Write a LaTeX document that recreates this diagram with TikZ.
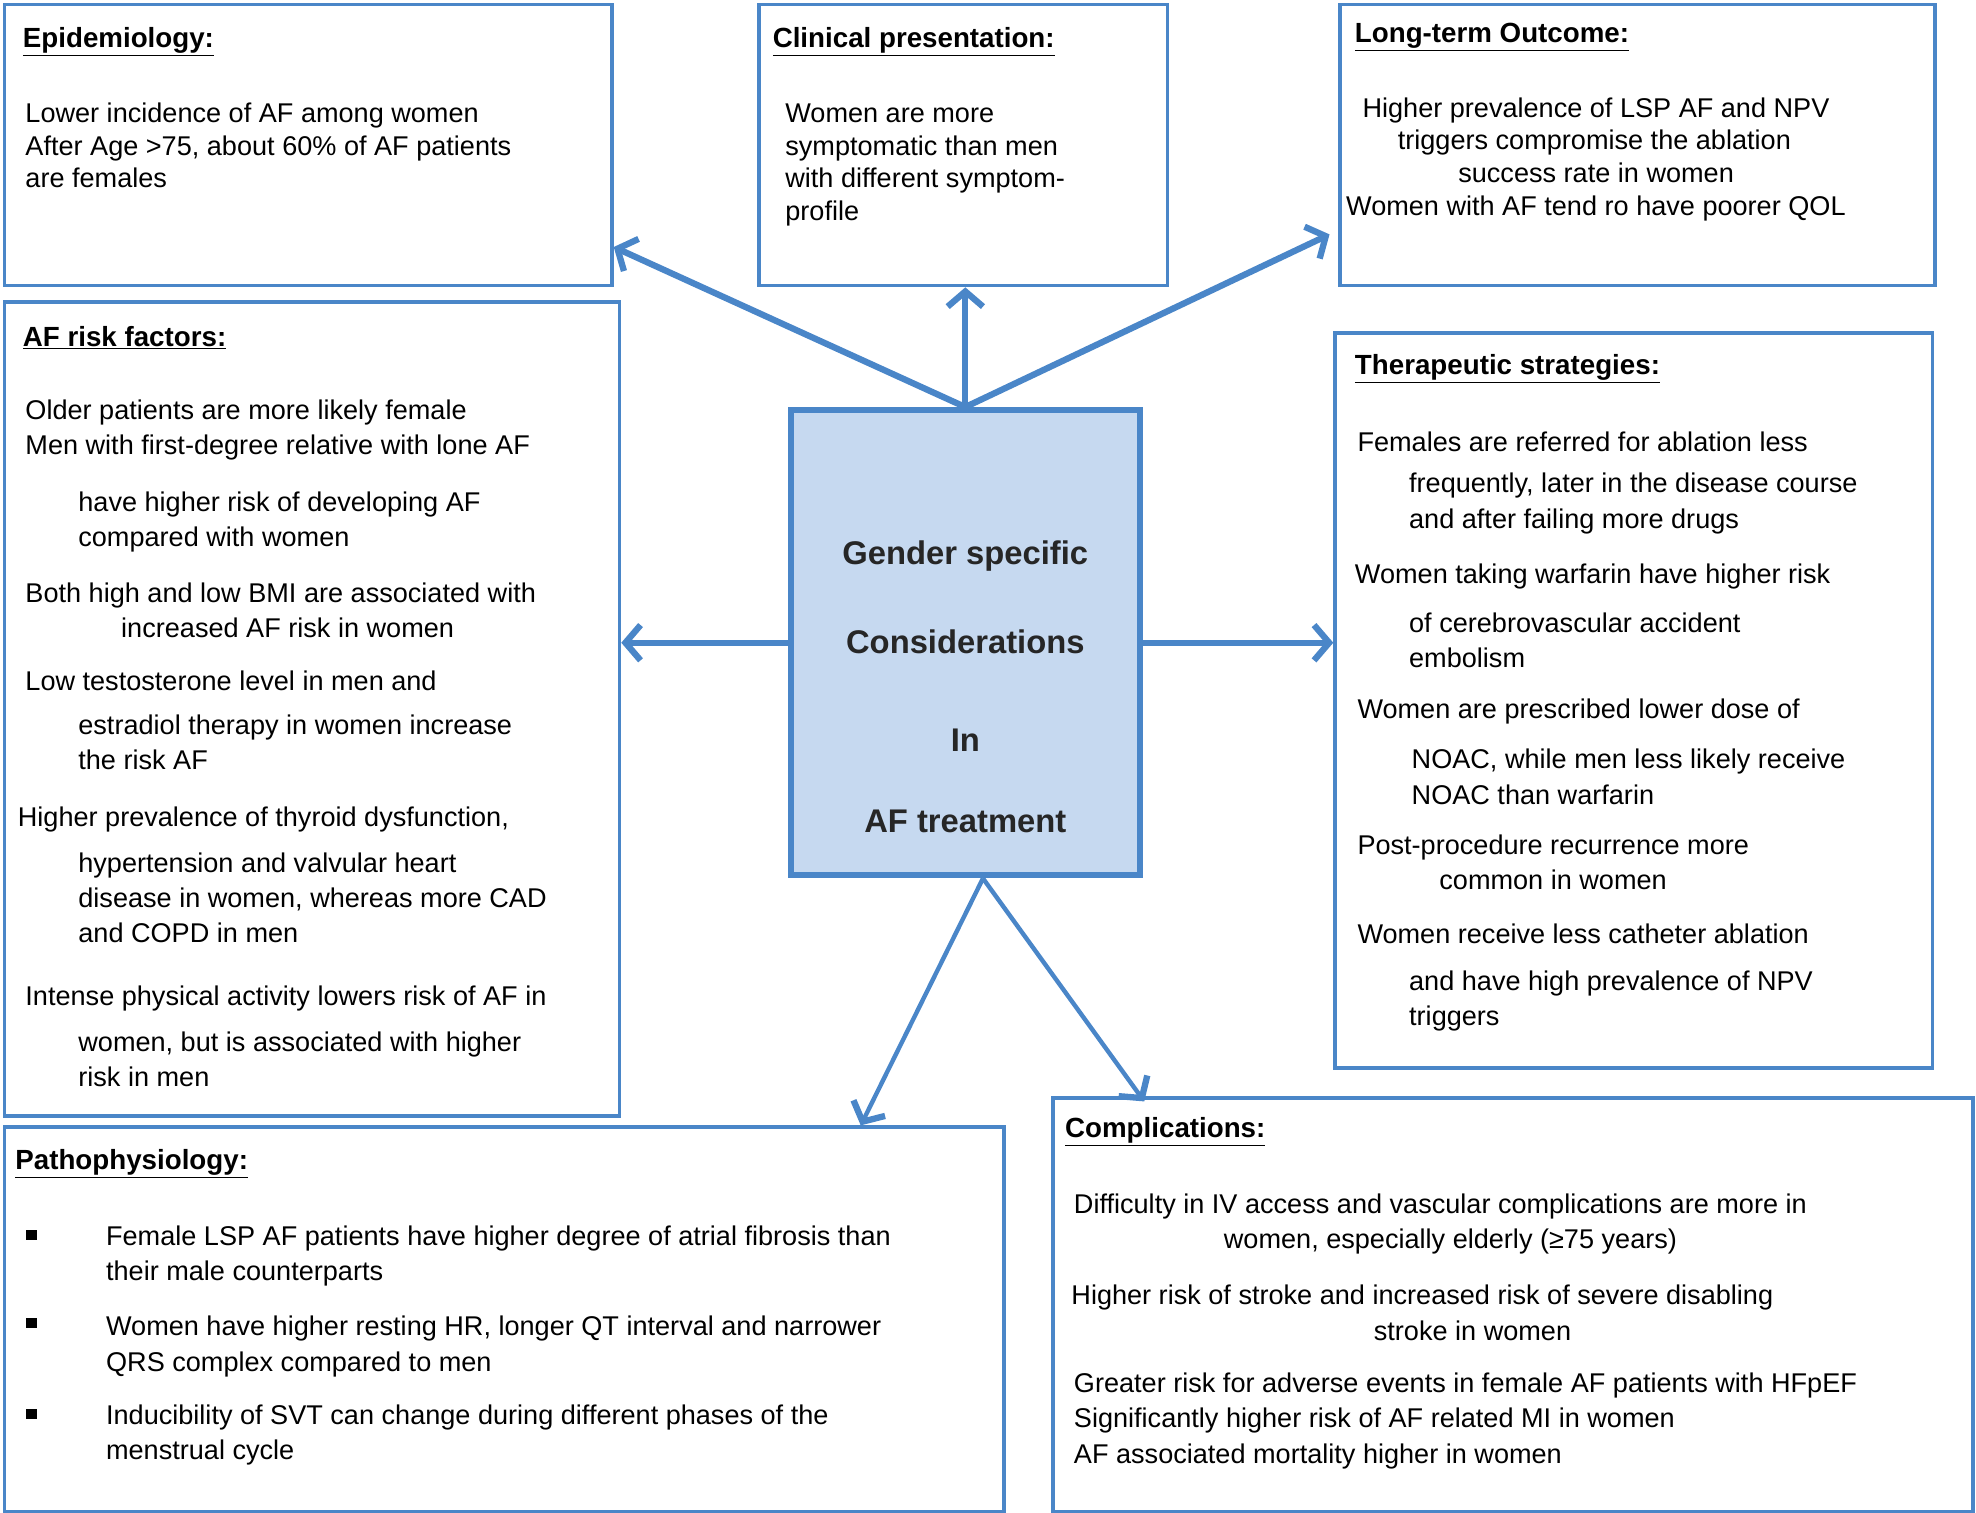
\documentclass[tikz,border=0pt]{standalone}
\usepackage{fontspec}
\setmainfont{Liberation Sans}
\usetikzlibrary{arrows.meta}

\definecolor{frameblue}{RGB}{74,134,200}
\definecolor{centrefill}{RGB}{198,217,240}

\begin{document}
\begin{tikzpicture}[x=1pt,y=-1pt,
            box/.style={draw=frameblue, line width=3pt, anchor=north west, inner sep=0pt},
            link/.style={draw=frameblue, line width=5pt, -{Straight Barb[length=12pt,width=28pt,line width=5pt]}},
            txt/.style={anchor=base west, inner sep=0pt, font=\fontsize{21.5}{25}\selectfont},
            head/.style={anchor=base west, inner sep=0pt, font=\fontsize{22}{26}\selectfont\bfseries}]

        \useasboundingbox (0,0) rectangle (1568,1200);

        \node[box, minimum width=482pt, minimum height=223pt] (epi) at (2,2) {};
        \node[box, minimum width=324pt, minimum height=223pt] (clin) at (601,2) {};
        \node[box, minimum width=472pt, minimum height=223pt] (outc) at (1062,2) {};
        \node[box, minimum width=488pt, minimum height=646pt] (risk) at (2,238) {};
        \node[box, minimum width=474pt, minimum height=583pt] (ther) at (1058,263) {};
        \node[box, minimum width=793pt, minimum height=305pt] (patho) at (2,893) {};
        \node[box, minimum width=730pt, minimum height=328pt] (compl) at (834,870) {};
        \node[box, line width=5pt, fill=centrefill, minimum width=277pt, minimum height=369pt] (centre) at (625,323) {};

        % headings
        \node[head] (epih) at (18,38) {\underline{Epidemiology:}};
        \node[head] (clinh) at (613,38) {\underline{Clinical presentation:}};
        \node[head] (outch) at (1075,34) {\underline{Long-term Outcome:}};
        \node[head] (riskh) at (18,275) {\underline{AF risk factors:}};
        \node[head] (therh) at (1075,297) {\underline{Therapeutic strategies:}};
        \node[head] (pathoh) at (12,928) {\underline{Pathophysiology:}};
        \node[head] (complh) at (845,903) {\underline{Complications:}};

        % centre text
        \foreach \y/\t in {441/Gender specific, 509/Considerations, 587/In, 652/AF treatment}
            \node[font=\fontsize{26}{30}\selectfont\bfseries, text=black!85] at (766,\y) {\t};

        % box texts
        \foreach \x/\y/\t in {
            20/97/Lower incidence of AF among women,
            20/123/{After Age >75, about 60\% of AF patients},
            20/149/are females,
            623/97/Women are more,
            623/123/symptomatic than men,
            623/149/with different symptom-,
            623/175/profile,
            1081/93/Higher prevalence of LSP AF and NPV,
            1109/119/triggers compromise the ablation,
            1157/145/success rate in women,
            1068/171/Women with AF tend ro have poorer QOL,
            20/333/Older patients are more likely female,
            20/361/Men with first-degree relative with lone AF,
            62/406/have higher risk of developing AF,
            62/434/compared with women,
            20/478/Both high and low BMI are associated with,
            96/506/increased AF risk in women,
            20/548/Low testosterone level in men and,
            62/583/estradiol therapy in women increase,
            62/611/the risk AF,
            14/656/{Higher prevalence of thyroid dysfunction,},
            62/692/hypertension and valvular heart,
            62/720/{disease in women, whereas more CAD},
            62/748/and COPD in men,
            20/798/Intense physical activity lowers risk of AF in,
            62/834/{women, but is associated with higher},
            62/862/risk in men,
            1077/358/Females are referred for ablation less,
            1118/391/{frequently, later in the disease course},
            1118/419/and after failing more drugs,
            1075/463/Women taking warfarin have higher risk,
            1118/502/of cerebrovascular accident/systemic,
            1118/530/embolism,
            1077/570/Women are prescribed lower dose of,
            1120/610/{NOAC, while men less likely receive},
            1120/638/NOAC than warfarin,
            1077/678/Post-procedure recurrence more,
            1142/706/common in women,
            1077/749/Women receive less catheter ablation,
            1118/786/and have high prevalence of NPV,
            1118/814/triggers,
            84/988/Female LSP AF patients have higher degree of atrial fibrosis than,
            84/1016/their male counterparts,
            84/1060/{Women have higher resting HR, longer QT interval and narrower},
            84/1088/QRS complex compared to men,
            84/1130/Inducibility of SVT can change during different phases of the,
            84/1158/menstrual cycle,
            852/963/Difficulty in IV access and vascular complications are more in,
            971/991/{women, especially elderly (≥75 years)},
            850/1035/Higher risk of stroke and increased risk of severe disabling/fatal,
            1090/1064/stroke in women,
            852/1105/Greater risk for adverse events in female AF patients with HFpEF,
            852/1133/Significantly higher risk of AF related MI in women,
            852/1161/AF associated mortality higher in women}
            \node[txt] at (\x,\y) {\t};

        % bullets
        \foreach \y in {980,1050,1122}
            \node[fill=black, inner sep=0pt, minimum size=8pt] at (25,\y) {};

        % connectors
        \draw[link] (centre.north) -- ([yshift=32pt]epi.south east);
        \draw[link] (centre.north) -- (centre.north |- clin.south);
        \draw[link] (centre.north) -- ([xshift=-7pt,yshift=42pt]outc.south west);
        \draw[link] (centre.west) -- (risk.east |- centre.west);
        \draw[link] (centre.east) -- (ther.west |- centre.east);
        \draw[link, line width=3.5pt] ([xshift=14pt]centre.south) -- ([xshift=681pt]patho.north west);
        \draw[link, line width=3.5pt] ([xshift=14pt]centre.south) -- ([xshift=74pt,yshift=-4pt]compl.north west);
    \end{tikzpicture}
\end{document}
